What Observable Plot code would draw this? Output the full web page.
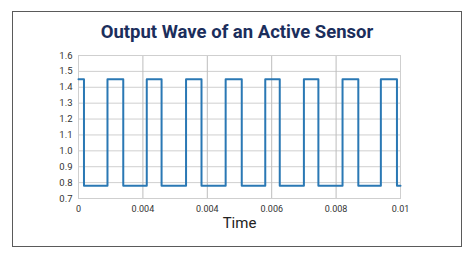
<!DOCTYPE html>
<html>
<head>
<meta charset="utf-8">
<script src="https://cdn.jsdelivr.net/npm/d3@7"></script>
<script src="https://cdn.jsdelivr.net/npm/@observablehq/plot@0.6"></script>
<style>
  html, body { margin: 0; padding: 0; background: #fff; }
  #wrap { position: relative; width: 474px; height: 260px; overflow: hidden; background: #fff; }
  #box { position: absolute; left: 12px; top: 11px; width: 448px; height: 234px; border: 1.5px solid #5a5a5a; box-sizing: content-box; }
  #title { position: absolute; left: 0; width: 474px; top: 21px; text-align: center; font-family: Roboto, sans-serif; font-weight: 700; font-size: 18.5px; line-height: 22px; color: #1b2e5c; }
  #chart { position: absolute; left: 0; top: 0; }
</style>
</head>
<body>
<div id="wrap">
  <div id="box"></div>
  <div id="chart"></div>
  <div id="title">Output Wave of an Active Sensor</div>
</div>
<script>
// Transition times (s) and the output level held from each time onwards
const times = [0, 0.00017, 0.0009, 0.00139, 0.00212, 0.00258, 0.00334, 0.00382, 0.00457, 0.00507, 0.0058, 0.00625, 0.007, 0.00745, 0.0082, 0.00869, 0.00939, 0.00989, 0.01];
const levels = [1.45, 0.78, 1.45, 0.78, 1.45, 0.78, 1.45, 0.78, 1.45, 0.78, 1.45, 0.78, 1.45, 0.78, 1.45, 0.78, 1.45, 0.78, 0.78];
const xTicks = [0, 0.002, 0.004, 0.006, 0.008, 0.01];
const xTickLabels = ["0", "0.004", "0.004", "0.006", "0.008", "0.01"];
const yTicks = [0.7, 0.8, 0.9, 1.0, 1.1, 1.2, 1.3, 1.4, 1.5, 1.6];
const xLabel = "Time";

const data = times.map((t, i) => ({t, v: levels[i]}));

const chart = Plot.plot({
  width: 474,
  height: 260,
  marginLeft: 78,
  marginRight: 74,
  marginTop: 55,
  marginBottom: 62,
  style: {background: "transparent", fontFamily: "Roboto, sans-serif", color: "#333"},
  x: {domain: [0, 0.01]},
  y: {domain: [0.7, 1.6]},
  marks: [
    Plot.gridY(yTicks, {stroke: "#cfcfcf", strokeOpacity: 1}),
    Plot.gridX(xTicks, {stroke: "#bdbdbd", strokeOpacity: 1}),
    Plot.frame({stroke: "#cfcfcf"}),
    Plot.line(data, {x: "t", y: "v", curve: "step-after", stroke: "#2a78b4", strokeWidth: 2}),
    Plot.axisX(xTicks, {tickSize: 0, tickPadding: 7, fontSize: 9, label: null, tickFormat: (d, i) => xTickLabels[i]}),
    Plot.axisY(yTicks, {tickSize: 0, tickPadding: 6, fontSize: 9.5, label: null, tickFormat: d3.format(".1f")}),
    Plot.text([xLabel], {frameAnchor: "bottom", dy: 29, fontSize: 15, fill: "#222"})
  ]
});
document.getElementById("chart").appendChild(chart);
</script>
</body>
</html>
